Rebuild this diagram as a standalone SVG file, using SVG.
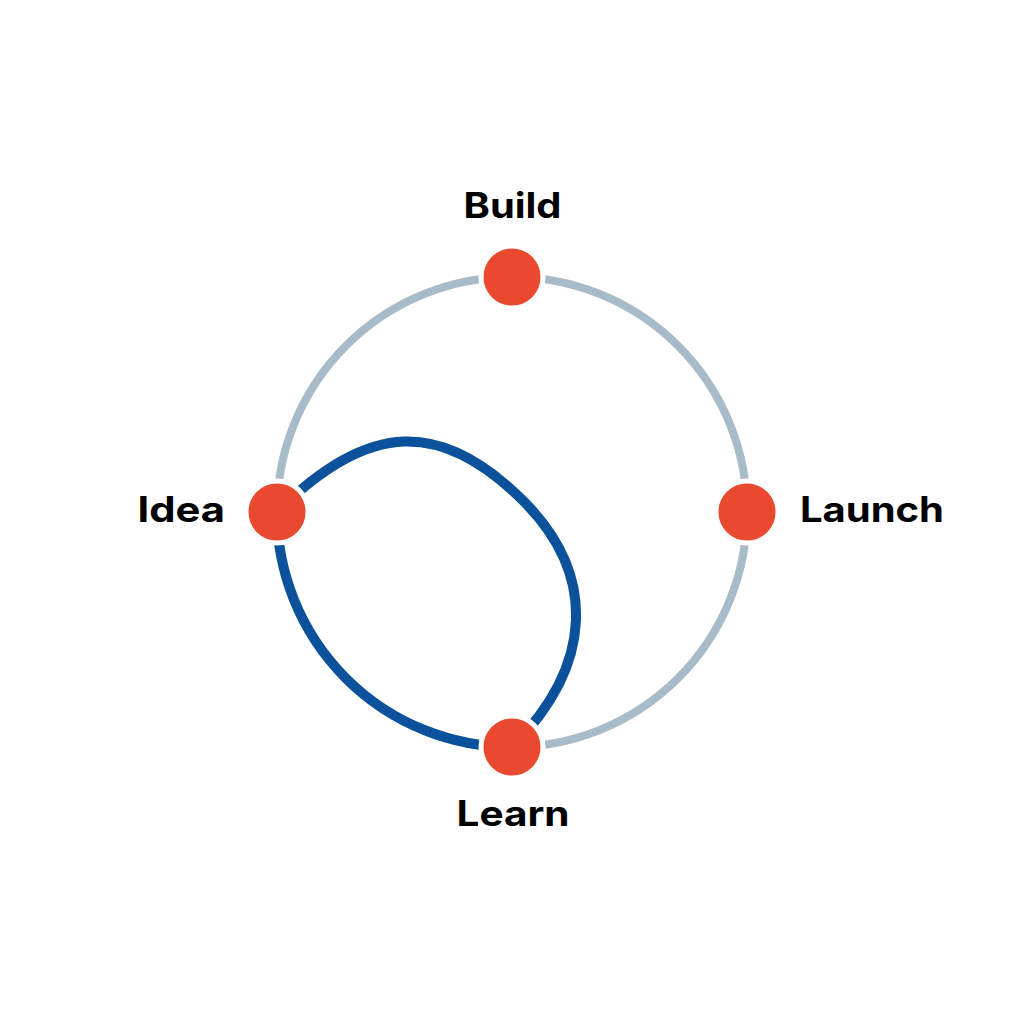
<svg xmlns="http://www.w3.org/2000/svg" width="1024" height="1024" viewBox="0 0 1024 1024">
  <style>
    .ring { fill: none; stroke: #A7BBC8; stroke-width: 8; }
    .loop { fill: none; stroke: #0B519B; stroke-width: 10; }
    .node { fill: #E9492F; stroke: #FFFFFF; stroke-width: 5; }
    .label { font-family: Inter, "Open Sans", "Liberation Sans", sans-serif; font-weight: 700; font-size: 35px; fill: #000000; }
  </style>
  <rect width="1024" height="1024" fill="#FFFFFF"/>
  <g id="connectors">
    <circle class="ring" cx="512" cy="512" r="235"/>
    <path class="loop" d="M 277 512 A 235 235 0 0 0 512 747"/>
    <path class="loop" d="M 277 512 C 368.9 420.1 442.2 419.8 523.2 500.8 C 597.4 575 593.3 665.7 512 747"/>
  </g>
  <g id="node-build">
    <circle class="node" cx="512" cy="277" r="31"/>
    <text class="label" x="512.5" y="218" text-anchor="middle" textLength="98" lengthAdjust="spacingAndGlyphs">Build</text>
  </g>
  <g id="node-idea">
    <circle class="node" cx="277" cy="512" r="31"/>
    <text class="label" x="137.5" y="522" textLength="87.5" lengthAdjust="spacingAndGlyphs">Idea</text>
  </g>
  <g id="node-launch">
    <circle class="node" cx="747" cy="512" r="31"/>
    <text class="label" x="800" y="522" textLength="144" lengthAdjust="spacingAndGlyphs">Launch</text>
  </g>
  <g id="node-learn">
    <circle class="node" cx="512" cy="747" r="31"/>
    <text class="label" x="456.5" y="826" textLength="113" lengthAdjust="spacingAndGlyphs">Learn</text>
  </g>
</svg>
